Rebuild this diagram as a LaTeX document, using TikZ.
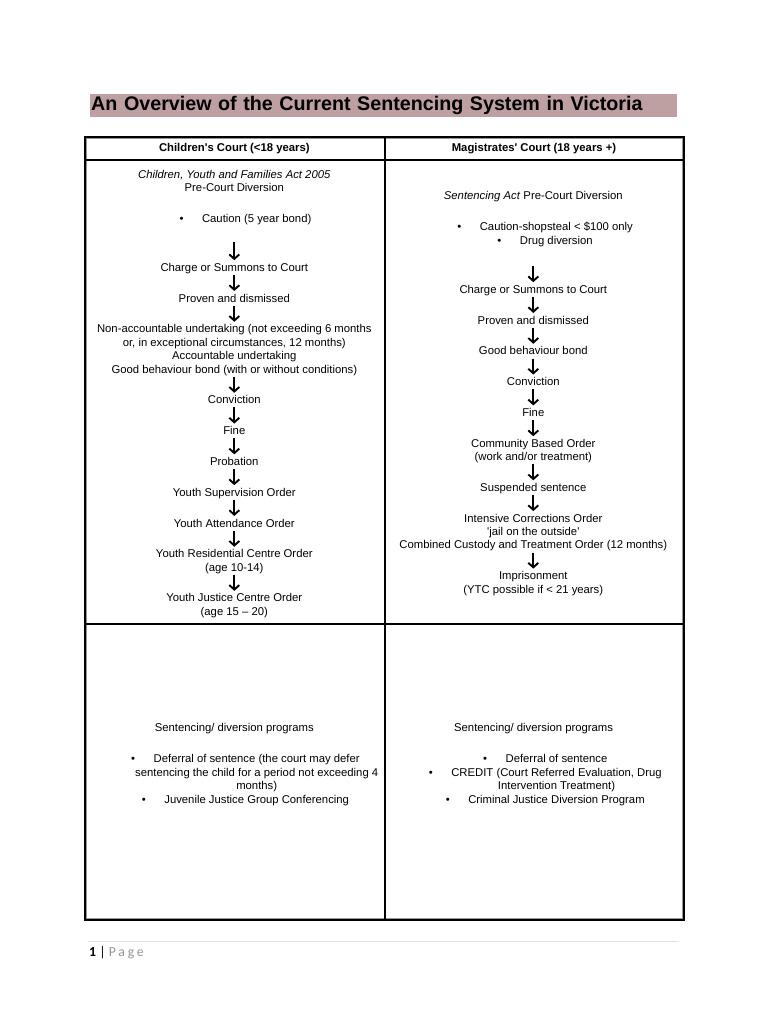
\documentclass[tikz,border=0pt]{standalone}
\usepackage{fontspec}
\setmainfont{Liberation Sans}
\newfontfamily\footfont{Carlito}
\newfontfamily\footspaced[LetterSpace=20]{Carlito}
\usepackage{tikz}
\usetikzlibrary{arrows.meta, positioning}
\definecolor{titlebg}{RGB}{190,160,162}
\definecolor{framegray}{RGB}{150,150,150}
\definecolor{pagegray}{RGB}{150,150,150}
\newcommand{\bul}{\llap{\textbullet\hspace{18.5pt}}}

\begin{document}
\begin{tikzpicture}[
    x=1pt, y=-1pt,
    node distance=19.7pt,
    stage/.style={font=\fontsize{11.3}{13.45}\selectfont, inner sep=0pt, text height=8.3pt, text depth=2.4pt},
    multi/.style={font=\fontsize{11.3}{13.45}\selectfont, inner sep=0pt, align=center},
    header/.style={font=\bfseries\fontsize{11.3}{13.45}\selectfont, inner sep=0pt},
    title/.style={fill=titlebg, text width=585pt, inner xsep=1pt, inner ysep=0pt, minimum height=23pt, align=left, font=\bfseries\fontsize{19.7}{24}\selectfont},
    flow/.style={-{Straight Barb[length=4.5pt,width=10pt]}, line width=1.9pt, shorten <=1pt, shorten >=2.6pt}
]
\fill[white] (0,0) rectangle (768,1024);
\useasboundingbox (0,0) rectangle (768,1024);

% Title
\node[title, anchor=north west] (title) at (90,94) {An Overview of the Current Sentencing System in Victoria};

% Table frame
\draw[line width=1.1pt] (85,137) rectangle (684,920);
\draw[framegray, line width=0.7pt] (86.8,138.8) rectangle (682.2,918.2);
\draw[line width=1.4pt] (86,160) -- (683,160);
\draw[line width=1.4pt] (86,624) -- (683,624);
\draw[line width=1.3pt] (385,137) -- (385,920);

% Headers
\node[header, anchor=base] (hdrL) at (234.3,152) {Children\textquotesingle s Court (<18 years)};
\node[header, anchor=base] (hdrR) at (534,152) {Magistrates\textquotesingle\ Court (18 years +)};

% Children's Court
\node[multi, anchor=north] (actL) at (234.3,169.8) {\textit{Children, Youth and Families Act 2005}\\Pre-Court Diversion};
\node[stage, anchor=base] (cautionL) at (256.7,222.7) {\bul Caution (5 year bond)};
\node[stage, anchor=base] (chargeL) at (234.3,271.3) {Charge or Summons to Court};
\node[stage, below=of chargeL] (provenL) {Proven and dismissed};
\node[multi, below=of provenL] (undertakeL) {Non-accountable undertaking (not exceeding 6 months\\or, in exceptional circumstances, 12 months)\\Accountable undertaking\\Good behaviour bond (with or without conditions)};
\node[stage, below=of undertakeL] (convictL) {Conviction};
\node[stage, below=of convictL] (fineL) {Fine};
\node[stage, below=of fineL] (probationL) {Probation};
\node[stage, below=of probationL] (supervisionL) {Youth Supervision Order};
\node[stage, below=of supervisionL] (attendanceL) {Youth Attendance Order};
\node[multi, below=of attendanceL] (residentialL) {Youth Residential Centre Order\\(age 10-14)};
\node[multi, below=of residentialL] (justiceL) {Youth Justice Centre Order\\(age 15 -- 20)};

% Magistrates' Court
\node[stage, anchor=base] (actR) at (533.3,199.3) {\textit{Sentencing Act} Pre-Court Diversion};
\node[multi, anchor=north] (divR) at (556.3,222.4) {\bul Caution-shopsteal < \$100 only\\\bul Drug diversion};
\node[stage, anchor=base] (chargeR) at (533.3,293.3) {Charge or Summons to Court};
\node[stage, below=of chargeR] (provenR) {Proven and dismissed};
\node[stage, below=of provenR] (bondR) {Good behaviour bond};
\node[stage, below=of bondR] (convictR) {Conviction};
\node[stage, below=of convictR] (fineR) {Fine};
\node[multi, below=of fineR] (communityR) {Community Based Order\\(work and/or treatment)};
\node[stage, below=of communityR] (suspendedR) {Suspended sentence};
\node[multi, below=of suspendedR] (intensiveR) {Intensive Corrections Order\\\textquotesingle jail on the outside\textquotesingle\\Combined Custody and Treatment Order (12 months)};
\node[multi, below=of intensiveR] (prisonR) {Imprisonment\\(YTC possible if < 21 years)};

% Arrows
\draw[flow, shorten <=16.5pt] (cautionL.south -| chargeL.north) -- (chargeL.north);
\draw[flow] (chargeL) -- (provenL);
\draw[flow] (provenL) -- (undertakeL);
\draw[flow] (undertakeL) -- (convictL);
\draw[flow] (convictL) -- (fineL);
\draw[flow] (fineL) -- (probationL);
\draw[flow] (probationL) -- (supervisionL);
\draw[flow] (supervisionL) -- (attendanceL);
\draw[flow] (attendanceL) -- (residentialL);
\draw[flow] (residentialL) -- (justiceL);

\draw[flow, shorten <=19pt] (divR.south -| chargeR.north) -- (chargeR.north);
\draw[flow] (chargeR) -- (provenR);
\draw[flow] (provenR) -- (bondR);
\draw[flow] (bondR) -- (convictR);
\draw[flow] (convictR) -- (fineR);
\draw[flow] (fineR) -- (communityR);
\draw[flow] (communityR) -- (suspendedR);
\draw[flow] (suspendedR) -- (intensiveR);
\draw[flow] (intensiveR) -- (prisonR);

% Programs
\node[stage, anchor=base] (progL) at (234.3,731.3) {Sentencing/ diversion programs};
\node[multi, anchor=north] (listL) at (256.7,754.4) {\bul Deferral of sentence (the court may defer\\sentencing the child for a period not exceeding 4\\months)\\\bul Juvenile Justice Group Conferencing};
\node[stage, anchor=base] (progR) at (533.6,731.3) {Sentencing/ diversion programs};
\node[multi, anchor=north] (listR) at (556.5,754.4) {\bul Deferral of sentence\\\bul CREDIT (Court Referred Evaluation, Drug\\Intervention Treatment)\\\bul Criminal Justice Diversion Program};

% Footer
\draw[black!12, line width=0.8pt] (88,941) -- (678,941);
\node[anchor=base west, inner sep=0pt, font=\fontsize{13.8}{16}\selectfont] (pagenum) at (89,956) {\footfont\textbf{1} | \textcolor{pagegray}{\footspaced Page}};

\end{tikzpicture}
\end{document}
